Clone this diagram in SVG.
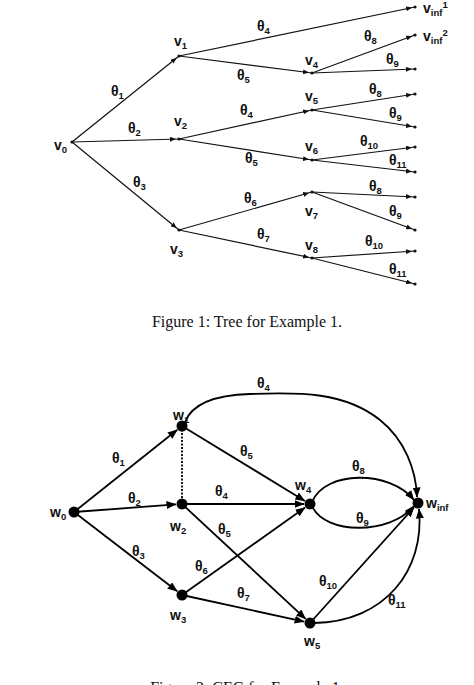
<svg xmlns="http://www.w3.org/2000/svg" width="474" height="685" viewBox="0 0 474 685">
<style>
.t{stroke:#111;stroke-width:1.2;fill:none;marker-end:url(#sa)}
.c{stroke:#000;stroke-width:1.8;fill:none}
.a{marker-end:url(#ah)}
.l{font-family:"Liberation Sans",Arial,sans-serif;font-weight:bold;font-size:14px;fill:#111}
.s{font-size:9.5px}
.cap{font-family:"Liberation Serif","Times New Roman",serif;font-size:16px;fill:#111}
</style>
<defs>
<marker id="sa" markerUnits="userSpaceOnUse" markerWidth="7" markerHeight="5" refX="9" refY="2.5" orient="auto"><path d="M0,0 L6,2.5 L0,5 z" fill="#111"/></marker>
<marker id="ah" markerUnits="userSpaceOnUse" markerWidth="10" markerHeight="8" refX="9.5" refY="4" orient="auto"><path d="M0,0 L10,4 L0,8 z" fill="#000"/></marker>
</defs>
<rect width="474" height="685" fill="#fff"/>

<!-- Tree connectors -->
<g id="tree-edges">
<line class="t" x1="72" y1="142" x2="179" y2="56"/>
<line class="t" x1="72" y1="142" x2="179" y2="139"/>
<line class="t" x1="72" y1="142" x2="179" y2="230"/>
<line class="t" x1="179" y1="56" x2="415" y2="7"/>
<line class="t" x1="179" y1="56" x2="312" y2="73"/>
<line class="t" x1="312" y1="73" x2="415" y2="35"/>
<line class="t" x1="312" y1="73" x2="415" y2="69"/>
<line class="t" x1="179" y1="139" x2="312" y2="110"/>
<line class="t" x1="179" y1="139" x2="312" y2="160"/>
<line class="t" x1="312" y1="110" x2="415" y2="94"/>
<line class="t" x1="312" y1="110" x2="415" y2="127"/>
<line class="t" x1="312" y1="160" x2="415" y2="147"/>
<line class="t" x1="312" y1="160" x2="415" y2="172"/>
<line class="t" x1="179" y1="230" x2="312" y2="192"/>
<line class="t" x1="179" y1="230" x2="312" y2="258"/>
<line class="t" x1="312" y1="192" x2="415" y2="197"/>
<line class="t" x1="312" y1="192" x2="415" y2="230"/>
<line class="t" x1="312" y1="258" x2="415" y2="251"/>
<line class="t" x1="312" y1="258" x2="415" y2="284"/>
</g>
<g id="tree-dots" fill="#111">
<circle cx="72" cy="142" r="1.6"/><circle cx="179" cy="56" r="1.6"/><circle cx="179" cy="139" r="1.6"/><circle cx="179" cy="230" r="1.6"/>
<circle cx="312" cy="73" r="1.6"/><circle cx="312" cy="110" r="1.6"/><circle cx="312" cy="160" r="1.6"/><circle cx="312" cy="192" r="1.6"/><circle cx="312" cy="258" r="1.6"/>
<circle cx="415" cy="7" r="1.6"/><circle cx="415" cy="35" r="1.6"/><circle cx="415" cy="69" r="1.6"/><circle cx="415" cy="94" r="1.6"/><circle cx="415" cy="127" r="1.6"/><circle cx="415" cy="147" r="1.6"/><circle cx="415" cy="172" r="1.6"/><circle cx="415" cy="197" r="1.6"/><circle cx="415" cy="230" r="1.6"/><circle cx="415" cy="251" r="1.6"/><circle cx="415" cy="284" r="1.6"/>
</g>
<g id="tree-labels" class="l">
<text x="54" y="150">v<tspan class="s" dy="3">0</tspan></text>
<text x="174" y="46">v<tspan class="s" dy="3">1</tspan></text>
<text x="174" y="126">v<tspan class="s" dy="3">2</tspan></text>
<text x="170" y="254">v<tspan class="s" dy="3">3</tspan></text>
<text x="305" y="65">v<tspan class="s" dy="3">4</tspan></text>
<text x="305" y="101">v<tspan class="s" dy="3">5</tspan></text>
<text x="305" y="151">v<tspan class="s" dy="3">6</tspan></text>
<text x="305" y="216">v<tspan class="s" dy="3">7</tspan></text>
<text x="305" y="250">v<tspan class="s" dy="3">8</tspan></text>
<text x="423" y="13">v<tspan class="s" dy="3">inf</tspan><tspan class="s" dy="-8">1</tspan></text>
<text x="423" y="41">v<tspan class="s" dy="3">inf</tspan><tspan class="s" dy="-8">2</tspan></text>
<text x="111" y="96">θ<tspan class="s" dy="3">1</tspan></text>
<text x="128" y="133">θ<tspan class="s" dy="3">2</tspan></text>
<text x="133" y="187">θ<tspan class="s" dy="3">3</tspan></text>
<text x="257" y="31">θ<tspan class="s" dy="3">4</tspan></text>
<text x="237" y="80">θ<tspan class="s" dy="3">5</tspan></text>
<text x="364" y="41">θ<tspan class="s" dy="3">8</tspan></text>
<text x="386" y="64">θ<tspan class="s" dy="3">9</tspan></text>
<text x="369" y="94">θ<tspan class="s" dy="3">8</tspan></text>
<text x="240" y="115">θ<tspan class="s" dy="3">4</tspan></text>
<text x="389" y="118">θ<tspan class="s" dy="3">9</tspan></text>
<text x="360" y="146">θ<tspan class="s" dy="3">10</tspan></text>
<text x="245" y="163">θ<tspan class="s" dy="3">5</tspan></text>
<text x="389" y="165">θ<tspan class="s" dy="3">11</tspan></text>
<text x="369" y="191">θ<tspan class="s" dy="3">8</tspan></text>
<text x="244" y="203">θ<tspan class="s" dy="3">6</tspan></text>
<text x="389" y="216">θ<tspan class="s" dy="3">9</tspan></text>
<text x="257" y="239">θ<tspan class="s" dy="3">7</tspan></text>
<text x="365" y="246">θ<tspan class="s" dy="3">10</tspan></text>
<text x="389" y="274">θ<tspan class="s" dy="3">11</tspan></text>
</g>
<text class="cap" x="247" y="327" text-anchor="middle">Figure 1: Tree for Example 1.</text>

<!-- CEG connectors -->
<g id="ceg-edges">
<line class="c a" x1="74" y1="512" x2="177.3" y2="429.7"/>
<line class="c a" x1="74" y1="512" x2="176" y2="504.4"/>
<line class="c a" x1="74" y1="512" x2="177.2" y2="591.3"/>
<line class="c" x1="182" y1="426" x2="182" y2="504" stroke-dasharray="2,1.5" stroke-width="1.3"/>
<path class="c a" d="M185,422 C192,404 215,395 250,394 C300,392 345,392 380,420 C405,440 416,470 417,497"/>
<line class="c a" x1="182" y1="426" x2="304.9" y2="500.9"/>
<line class="c a" x1="182" y1="504" x2="304" y2="504"/>
<line class="c a" x1="182" y1="504" x2="305.6" y2="618.9"/>
<line class="c a" x1="182" y1="595" x2="305.1" y2="507.5"/>
<line class="c a" x1="182" y1="595" x2="304.1" y2="621.7"/>
<path class="c a" d="M312,502 C325,470 390,470 414,500"/>
<path class="c a" d="M312,506 C325,535 390,535 414,506"/>
<line class="c a" x1="310" y1="623" x2="414" y2="507.5"/>
<path class="c a" d="M314,623 C385,622 425,570 419,509"/>
</g>
<g id="w0"><circle cx="74" cy="512" r="5.5"/><text class="l" x="50" y="517">w<tspan class="s" dy="3">0</tspan></text></g>
<g id="w1"><circle cx="182" cy="426" r="5.5"/><text class="l" x="173" y="420">w<tspan class="s" dy="3">1</tspan></text></g>
<g id="w2"><circle cx="182" cy="504" r="5.5"/><text class="l" x="170" y="531">w<tspan class="s" dy="3">2</tspan></text></g>
<g id="w3"><circle cx="182" cy="595" r="5.5"/><text class="l" x="170" y="620">w<tspan class="s" dy="3">3</tspan></text></g>
<g id="w4"><circle cx="310" cy="504" r="5.5"/><text class="l" x="295" y="490">w<tspan class="s" dy="3">4</tspan></text></g>
<g id="w5"><circle cx="310" cy="623" r="5.5"/><text class="l" x="304" y="646">w<tspan class="s" dy="3">5</tspan></text></g>
<g id="winf"><circle cx="418" cy="503" r="5.5"/><text class="l" x="426" y="508">w<tspan class="s" dy="3">inf</tspan></text></g>
<g id="ceg-labels" class="l">
<text x="257" y="388">θ<tspan class="s" dy="3">4</tspan></text>
<text x="112" y="463">θ<tspan class="s" dy="3">1</tspan></text>
<text x="240" y="456">θ<tspan class="s" dy="3">5</tspan></text>
<text x="128" y="503">θ<tspan class="s" dy="3">2</tspan></text>
<text x="215" y="496">θ<tspan class="s" dy="3">4</tspan></text>
<text x="352" y="471">θ<tspan class="s" dy="3">8</tspan></text>
<text x="218" y="534">θ<tspan class="s" dy="3">5</tspan></text>
<text x="356" y="523">θ<tspan class="s" dy="3">9</tspan></text>
<text x="132" y="556">θ<tspan class="s" dy="3">3</tspan></text>
<text x="195" y="571">θ<tspan class="s" dy="3">6</tspan></text>
<text x="237" y="598">θ<tspan class="s" dy="3">7</tspan></text>
<text x="319" y="586">θ<tspan class="s" dy="3">10</tspan></text>
<text x="388" y="605">θ<tspan class="s" dy="3">11</tspan></text>
</g>
<text class="cap" x="247" y="693" text-anchor="middle">Figure 2: CEG for Example 1.</text>
</svg>
